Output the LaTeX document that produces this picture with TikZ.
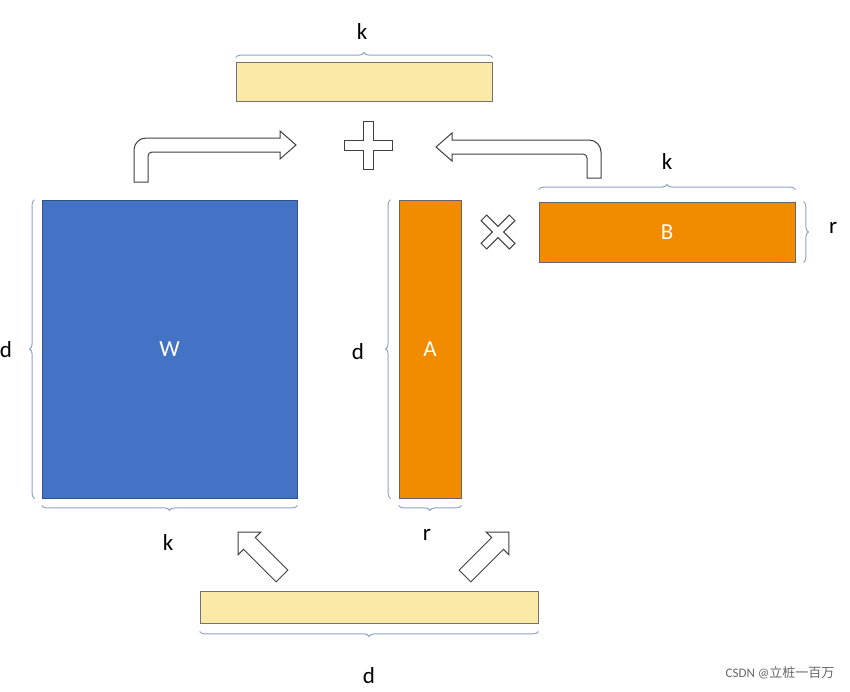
\documentclass[tikz,border=0pt]{standalone}
\usepackage{fontspec}
\setmainfont{Carlito}
\newfontfamily\cjk{Noto Sans CJK SC}
\usetikzlibrary{decorations.pathreplacing,shapes.arrows}
\definecolor{ylw}{HTML}{FBE9A7}
\definecolor{org}{HTML}{F18B00}
\definecolor{blu}{HTML}{4472C4}
\definecolor{brc}{HTML}{8EA4C8}
\tikzset{
 bar/.style={draw=black!55,fill=ylw,line width=0.8pt},
 orng/.style={draw=black!60,fill=org,line width=0.8pt},
 brace/.style={draw=brc,line width=1pt,decorate,decoration={brace,amplitude=5pt}},
 dim/.style={font=\fontsize{23}{23}\selectfont},
 inlbl/.style={text=white,font=\fontsize{23}{23}\selectfont},
 hollow/.style={draw=black!75,fill=white,line width=1pt},
 harrow/.style={hollow,single arrow,minimum height=62pt,minimum width=32pt,single arrow head extend=6pt,inner sep=6pt}
}
\begin{document}
\begin{tikzpicture}[x=1pt,y=-1pt]
\useasboundingbox (0,0) rectangle (850,691);
% top bar
\node[bar,minimum width=256pt,minimum height=39pt,inner sep=0] (top) at (364,81.5) {};
\draw[brace] ([yshift=4pt]top.north west) -- ([yshift=4pt]top.north east);
\node[dim] (tk) at (362,32) {k};
% W
\node[draw=blu!70!black,fill=blu,line width=0.8pt,minimum width=255pt,minimum height=298pt,inner sep=0] (W) at (169.5,349) {};
\node[inlbl] at (W) {W};
\draw[brace] ([xshift=-7pt]W.south west) -- ([xshift=-7pt]W.north west);
\node[dim] (wd) at (6,350) {d};
\draw[brace] ([yshift=-7pt]W.south east) -- ([yshift=-7pt]W.south west);
\node[dim] (wk) at (168,543) {k};
% A
\node[orng,minimum width=62pt,minimum height=298pt,inner sep=0] (A) at (430,349) {};
\node[inlbl] at (A) {A};
\draw[brace] ([xshift=-8pt]A.south west) -- ([xshift=-8pt]A.north west);
\node[dim] (ad) at (358,352) {d};
\draw[brace] ([yshift=-7pt]A.south east) -- ([yshift=-7pt]A.south west);
\node[dim] (ar) at (427,535) {r};
% B
\node[orng,minimum width=256pt,minimum height=60pt,inner sep=0] (B) at (667,232) {};
\node[inlbl] at (B) {B};
\draw[brace] ([yshift=12pt]B.north west) -- ([yshift=12pt]B.north east);
\node[dim] (bk) at (667,162) {k};
\draw[brace] ([xshift=8pt]B.north east) -- ([xshift=8pt]B.south east);
\node[dim] (br) at (833,228) {r};
% bottom bar
\node[bar,minimum width=338pt,minimum height=32pt,inner sep=0] (bot) at (369,607) {};
\draw[brace] ([yshift=-8pt]bot.south east) -- ([yshift=-8pt]bot.south west);
\node[dim] (bd) at (369,676) {d};
% plus
\draw[hollow] (363,121) -- (373,121) -- (373,140) -- (392,140) -- (392,150) -- (373,150) -- (373,169) -- (363,169) -- (363,150) -- (344,150) -- (344,140) -- (363,140) -- cycle;
% times
\draw[hollow,rotate around={45:(498,232)}] (494,212) -- (502,212) -- (502,228) -- (518,228) -- (518,236) -- (502,236) -- (502,252) -- (494,252) -- (494,236) -- (478,236) -- (478,228) -- (494,228) -- cycle;
% curved arrows
\draw[hollow] (134,182) [rounded corners=12pt]-- (134,138) [sharp corners]-- (280,138) -- (280,131) -- (296,145) -- (280,159) -- (280,152) [rounded corners=4pt]-- (148,152) [sharp corners]-- (148,182) -- cycle;
\draw[hollow] (601,178) [rounded corners=12pt]-- (601,140) [sharp corners]-- (452,140) -- (452,133) -- (436,147) -- (452,161) -- (452,154) [rounded corners=4pt]-- (587,154) [sharp corners]-- (587,178) -- cycle;
% up arrows
\node[harrow,rotate=135] (la) at (263,557) {};
\node[harrow,rotate=45] (ra) at (484,557) {};
% watermark
\node[text=black!60,font=\fontsize{13}{13}\selectfont,anchor=east] at (838,673) {CSDN @{\cjk 立桩一百万}};
\end{tikzpicture}
\end{document}
